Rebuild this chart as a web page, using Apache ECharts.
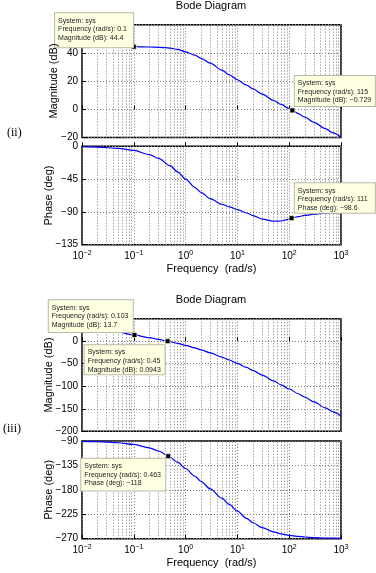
<!DOCTYPE html>
<html>
<head>
<meta charset="utf-8">
<title>Bode Diagram</title>
<script src="https://cdn.jsdelivr.net/npm/echarts@6/dist/echarts.min.js"></script>
<style>
  html, body { margin: 0; padding: 0; background: #fff; }
  #bode { width: 376px; height: 573px; }
</style>
</head>
<body>
<div id="bode"></div>
<script>
// (ii)
const freqA = [0.01, 0.02, 0.05, 0.1, 0.2, 0.3, 0.5, 0.7, 1, 1.5, 2, 3, 5, 7, 10, 15, 20, 30, 50, 70, 100, 115, 150, 200, 300, 500, 700, 1000];
const magA = [44.4, 44.4, 44.4, 44.4, 44.2, 44.0, 43.4, 42.5, 40.8, 38.4, 36.2, 32.8, 27.8, 24.5, 21.0, 17.2, 14.5, 10.8, 6.3, 3.5, 0.5, -0.7, -3.0, -5.5, -9.2, -13.7, -16.7, -19.8];
const phaseA = [-0.6, -1.1, -2.9, -5.7, -11.3, -16.7, -26.6, -35.0, -45.0, -56.3, -63.5, -71.8, -79.5, -83.0, -86.8, -91.5, -95.0, -99.8, -102.8, -102.5, -99.8, -98.4, -96.4, -94.8, -93.2, -91.8, -91.2, -90.7];

// (iii)
const freqB = [0.01, 0.02, 0.05, 0.1, 0.2, 0.3, 0.45, 0.7, 1, 1.5, 2, 3, 5, 7, 10, 15, 20, 30, 50, 70, 100, 150, 200, 300, 500, 700, 1000];
const magB = [34.0, 28.0, 20.0, 13.9, 7.8, 4.1, 0.1, -4.7, -9.1, -14.8, -19.2, -25.9, -35.1, -41.7, -49.1, -58.2, -65.1, -75.1, -88.1, -96.8, -106.1, -116.6, -124.1, -134.7, -148.0, -156.7, -166.0];
const phaseB = [-90.6, -91.3, -93.2, -96.3, -102.5, -108.4, -116.8, -129.0, -140.7, -154.8, -164.7, -178.3, -195.3, -206.9, -219.3, -232.5, -240.6, -249.7, -257.5, -261.1, -263.7, -265.8, -266.9, -267.9, -268.7, -269.1, -269.4];

// data tips: frequency, value, text shown
const tipMagA1 = [0.1, 44.4, 'Frequency (rad/s): 0.1', 'Magnitude (dB): 44.4'];
const tipMagA2 = [115, -0.729, 'Frequency (rad/s): 115', 'Magnitude (dB): \u22120.729'];
const tipPhA = [111, -98.6, 'Frequency (rad/s): 111', 'Phase (deg): \u221298.6'];
const tipMagB1 = [0.103, 13.7, 'Frequency (rad/s): 0.103', 'Magnitude (dB): 13.7'];
const tipMagB2 = [0.45, 0.0943, 'Frequency (rad/s): 0.45', 'Magnitude (dB): 0.0943'];
const tipPhB = [0.463, -118, 'Frequency (rad/s): 0.463', 'Phase (deg): \u2212118'];

// minor log grid lines 2..9 in every decade
const minorFreqs = [];
for (let k = -2; k < 3; k++) {
  for (let m = 2; m < 10; m++) minorFreqs.push(m * Math.pow(10, k));
}

const FONT = 'Liberation Sans';
const dotted = { color: '#7a7a7a', type: [1, 2], width: 1 };

const grids = [
  { left: 82, top: 24.7, width: 259, height: 112.9 },
  { left: 82, top: 146.3, width: 259, height: 98.4 },
  { left: 82, top: 318.7, width: 259, height: 112.6 },
  { left: 82, top: 441, width: 259, height: 97.7 },
].map(g => Object.assign(g, { show: true, borderColor: '#000', borderWidth: 1.5, backgroundColor: '#fff' }));

const minus = v => (v < 0 ? '\u2212' + Math.abs(v) : String(v));

function xAxis(idx, labels) {
  return {
    type: 'log', logBase: 10, gridIndex: idx, min: 0.01, max: 1000,
    name: labels ? 'Frequency  (rad/s)' : '', nameLocation: 'middle', nameGap: 19,
    nameMoveOverlap: false,
    nameTextStyle: { fontFamily: FONT, fontSize: 11, color: '#000' },
    axisLine: { show: false },
    axisTick: { show: true, inside: true, length: 4, lineStyle: { color: '#000' } },
    splitLine: { show: true, lineStyle: dotted },
    axisLabel: {
      show: labels, margin: 5, showMinLabel: true, showMaxLabel: true,
      formatter: v => {
        const e = Math.round(Math.log10(v));
        return '{b|10}{e|' + minus(e) + '}';
      },
      rich: {
        b: { fontFamily: FONT, fontSize: 10, color: '#000' },
        e: { fontFamily: FONT, fontSize: 7, color: '#000', padding: [0, 0, 7, 0] },
      },
    },
  };
}

function yAxis(idx, name, min, max, step, gap) {
  return {
    type: 'value', gridIndex: idx, min: min, max: max, interval: step,
    name: name, nameLocation: 'middle', nameGap: gap, nameMoveOverlap: false,
    nameTextStyle: { fontFamily: FONT, fontSize: 11, color: '#000' },
    axisLine: { show: false },
    axisTick: { show: true, inside: true, length: 4, lineStyle: { color: '#000' } },
    splitLine: { show: true, lineStyle: dotted },
    axisLabel: {
      margin: 4, fontFamily: FONT, fontSize: 10, color: '#000',
      showMinLabel: true, showMaxLabel: true, formatter: minus,
    },
  };
}

// one data tip box, placed against the black marker
function tip(t, dx, dy, w, h) {
  return {
    coord: [t[0], t[1]],
    label: {
      show: true, position: 'inside', align: 'left', verticalAlign: 'top',
      offset: [dx, dy], width: w, height: h,
      formatter: ['System: sys', t[2], t[3]].join('\n'),
    },
  };
}

function bodeSeries(idx, freqs, vals, tips) {
  return {
    type: 'line', xAxisIndex: idx, yAxisIndex: idx, z: 3,
    data: freqs.map((f, i) => [f, vals[i]]),
    showSymbol: false, smooth: 0.3, smoothMonotone: 'x',
    lineStyle: { color: '#0000ff', width: 1.2 },
    clip: true,
    markLine: {
      silent: true, z: 1, symbol: ['none', 'none'],
      label: { show: false }, lineStyle: dotted, animation: false,
      data: minorFreqs.map(v => ({ xAxis: v })),
    },
    markPoint: {
      silent: true, z: 6, symbol: 'rect', symbolSize: 5,
      itemStyle: { color: '#000', borderColor: '#f4f4d0', borderWidth: 0.8 },
      label: {
        fontFamily: FONT, fontSize: 7, lineHeight: 8.6, color: '#222',
        backgroundColor: '#ffffe1', borderColor: '#b8b8a8', borderWidth: 1,
        padding: [3, 3, 3, 3],
      },
      data: tips,
    },
  };
}

const chart = echarts.init(document.getElementById('bode'), null, { renderer: 'canvas' });

chart.setOption({
  animation: false,
  backgroundColor: '#fff',
  title: [
    { text: 'Bode Diagram', left: 211, top: 0.5, padding: 0, textAlign: 'center',
      textStyle: { fontFamily: FONT, fontSize: 11, fontWeight: 'normal', color: '#000' } },
    { text: 'Bode Diagram', left: 211, top: 294.5, padding: 0, textAlign: 'center',
      textStyle: { fontFamily: FONT, fontSize: 11, fontWeight: 'normal', color: '#000' } },
  ],
  graphic: [
    { type: 'text', left: 7, top: 127, style: { text: '(ii)', fontFamily: 'Liberation Serif', fontSize: 12, fill: '#000' } },
    { type: 'text', left: 3, top: 423, style: { text: '(iii)', fontFamily: 'Liberation Serif', fontSize: 12, fill: '#000' } },
    // upper magnitude label sits over the first data tip in the original
    { type: 'text', x: 54, y: 81, rotation: Math.PI / 2, z: 100,
      style: { text: 'Magnitude (dB)', fontFamily: FONT, fontSize: 11, fill: '#000',
               align: 'center', verticalAlign: 'middle' } },
  ],
  grid: grids,
  xAxis: [xAxis(0, false), xAxis(1, true), xAxis(2, false), xAxis(3, true)],
  yAxis: [
    yAxis(0, '', -20, 60, 20, 22),
    yAxis(1, 'Phase (deg)', -135, 0, 45, 28),
    yAxis(2, 'Magnitude (dB)', -200, 50, 50, 28),
    yAxis(3, 'Phase (deg)', -270, -90, 45, 28),
  ],
  series: [
    bodeSeries(0, freqA, magA, [tip(tipMagA1, -78.7, -33.4, 72, 28), tip(tipMagA2, 2.5, -34.4, 74, 24)]),
    bodeSeries(1, freqA, phaseA, [tip(tipPhA, 3.3, -34.8, 74, 23.5)]),
    bodeSeries(2, freqB, magB, [tip(tipMagB1, -85.7, -34.7, 78, 25.7), tip(tipMagB2, -83, 4, 74, 23)]),
    bodeSeries(3, freqB, phaseB, [tip(tipPhB, -87, 2.6, 78, 25.7)]),
  ],
});
</script>
</body>
</html>
